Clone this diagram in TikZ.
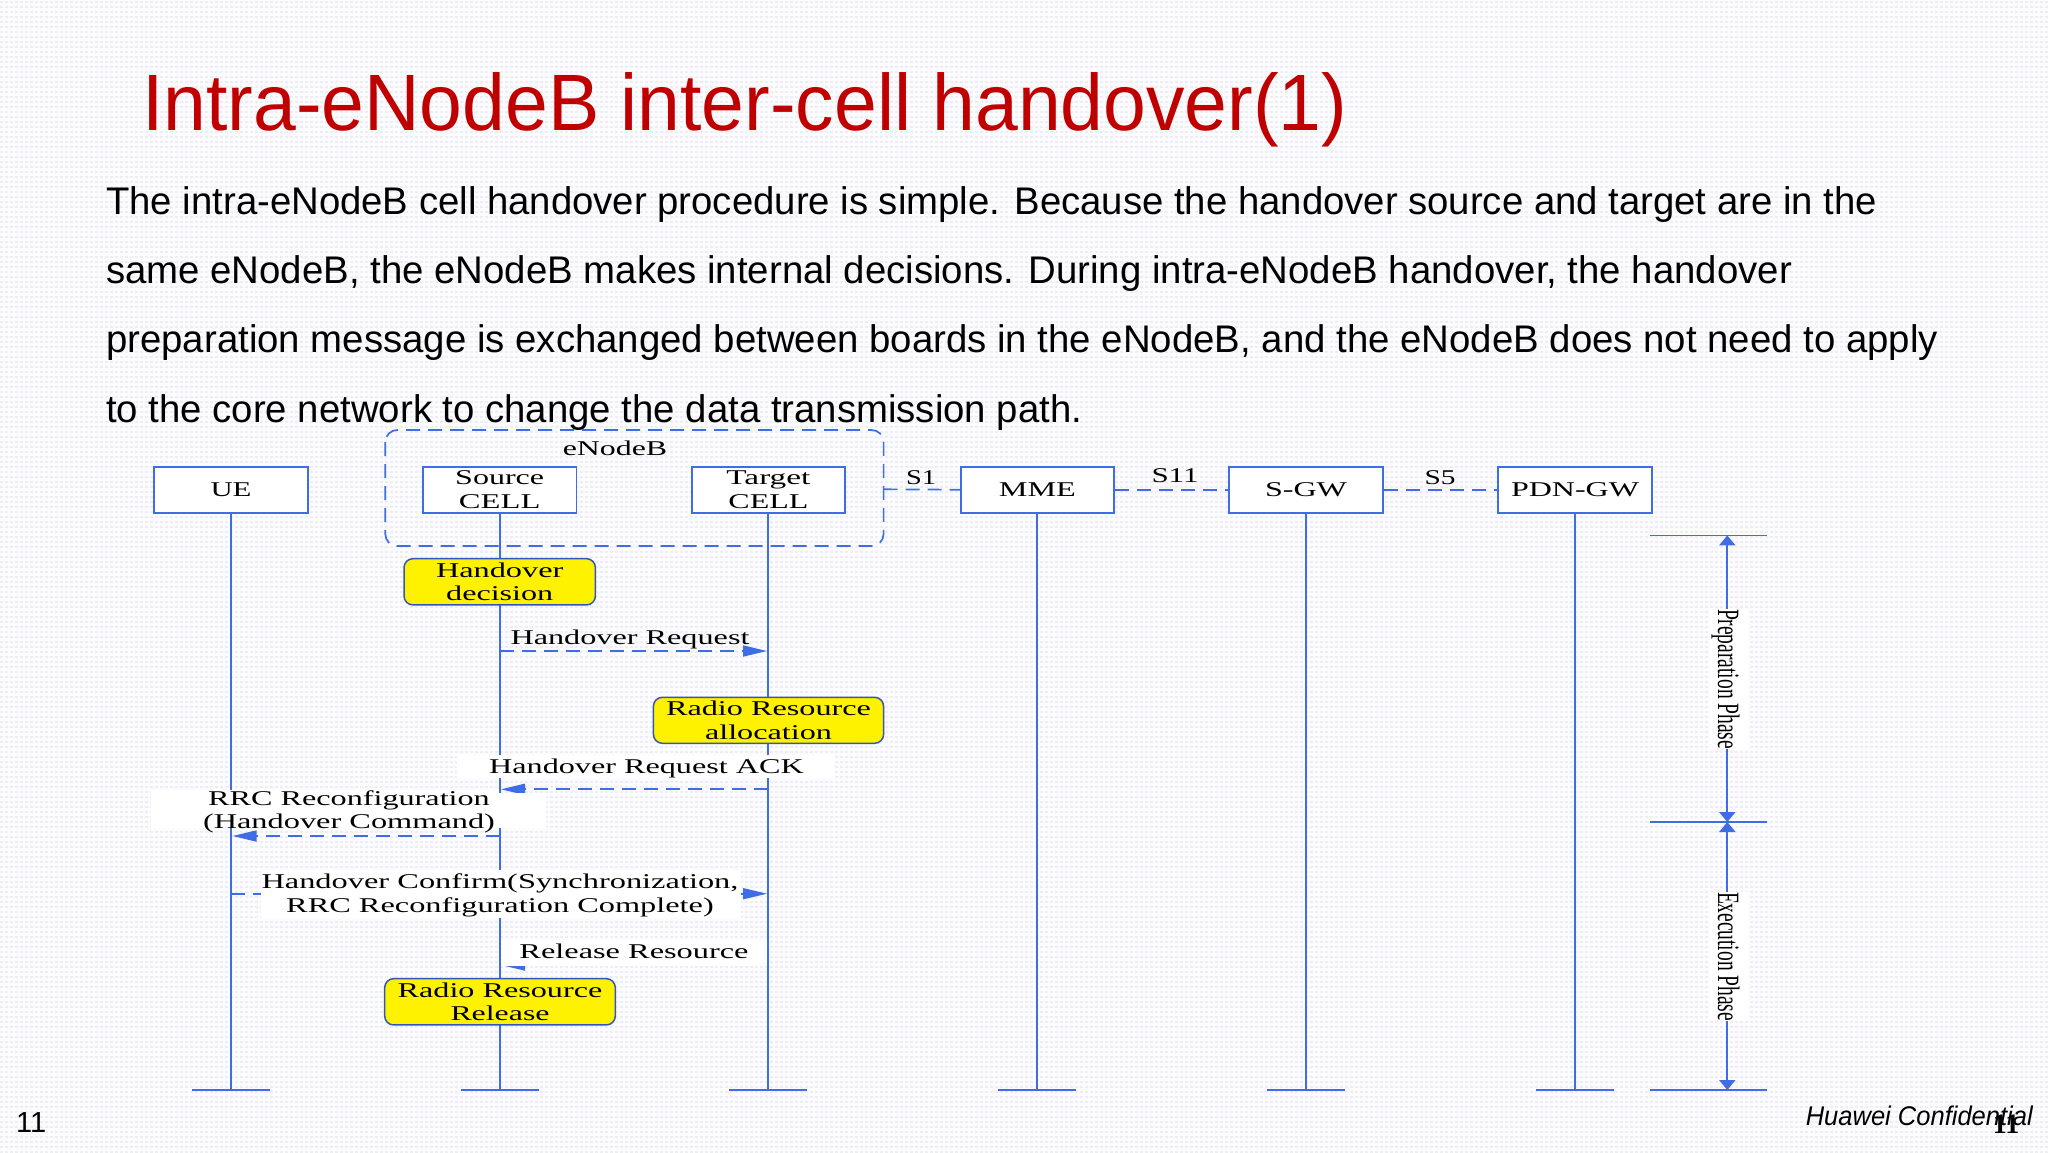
\documentclass[tikz,border=0pt]{standalone}
\usepackage{fontspec}
\setmainfont{Liberation Serif}
\newfontfamily\arialf{Liberation Sans}
\usetikzlibrary{arrows.meta}
\definecolor{lineblue}{HTML}{3F6DE6}
\definecolor{titlered}{HTML}{C00000}
\definecolor{dotc}{HTML}{EDEDF5}
\definecolor{groundc}{HTML}{FCFCFE}
\newcommand{\fit}[2]{\resizebox{#1pt}{\height}{#2}}
\tikzset{
  x=1pt,y=-1pt,
  actor/.style={draw=lineblue,line width=1.8pt,fill=white,minimum width=153.5pt,minimum height=46pt,inner sep=0pt,align=center,font=\fontsize{21}{23.3}\selectfont},
  life/.style={draw=lineblue,line width=2.1pt},
  tick/.style={draw=lineblue,line width=1.7pt},
  msg/.style={draw=lineblue,line width=1.7pt,dash pattern=on 14pt off 8pt,-{Triangle[length=24pt,width=11pt]}},
  link/.style={draw=lineblue,line width=1.7pt,dash pattern=on 14pt off 8pt},
  phase/.style={draw=lineblue,line width=2.1pt,{Triangle[length=10pt,width=16pt]}-{Triangle[length=10pt,width=16pt]}},
  proc/.style={draw=lineblue!80!black,line width=1.5pt,fill=yellow,rounded corners=9pt,inner sep=0pt,align=center,font=\fontsize{21}{23.3}\selectfont},
  lbl/.style={inner sep=0pt,align=center,font=\fontsize{21}{23.3}\selectfont},
  body/.style={inner sep=0pt,anchor=base west,font=\arialf\fontsize{38.5}{40}\selectfont},
  phasetxt/.style={inner sep=0pt,anchor=base,rotate=-90,font=\fontsize{31}{33}\selectfont},
  bgdots/.style={draw=dotc,line width=2.6pt,dash pattern=on 3pt off 2pt}
}
\begin{document}
\begin{tikzpicture}
\useasboundingbox (0,0) rectangle (2048,1152);
% background
\fill[groundc] (0,0) rectangle (2048,1152);
\foreach \yy in {2,7,...,1152} {\draw[bgdots] (0,\yy) -- (2048,\yy);}
% title and body
\node[inner sep=0pt,anchor=base west,text=titlered,font=\arialf\fontsize{80}{82}\selectfont] (title) at (142,130.5) {\fit{1205}{Intra-eNodeB inter-cell handover(1)}};
\node[body] (l1) at (106,214) {\fit{1771}{The intra-eNodeB cell handover procedure is simple. Because the handover source and target are in the}};
\node[body] (l2) at (106,283.3) {\fit{1686}{same eNodeB, the eNodeB makes internal decisions. During intra-eNodeB handover, the handover}};
\node[body] (l3) at (106,352.6) {\fit{1832}{preparation message is exchanged between boards in the eNodeB, and the eNodeB does not need to apply}};
\node[body] (l4) at (106,422) {\fit{976}{to the core network to change the data transmission path.}};
% lifeline ends
\coordinate (ueE) at (231,1090);
\coordinate (srcE) at (499.7,1090);
\coordinate (tgtE) at (768.4,1090);
\coordinate (mmeE) at (1037.4,1090);
\coordinate (sgwE) at (1306,1090);
\coordinate (pgwE) at (1575,1090);
% enodeb frame
\draw[link,rounded corners=12pt] (385.3,430) rectangle (883.6,546);
% actors
\node[actor] (ue) at (231,489.7) {\fit{41}{UE}};
\node[actor] (src) at (499.7,489.7) {\fit{89}{Source}\\\fit{81.5}{CELL}};
\node[actor] (tgt) at (768.4,489.7) {\fit{84}{Target}\\\fit{80}{CELL}};
\node[actor] (mme) at (1037.4,489.7) {\fit{77}{MME}};
\node[actor] (sgw) at (1306,489.7) {\fit{82}{S-GW}};
\node[actor] (pgw) at (1575,489.7) {\fit{128}{PDN-GW}};
\node[lbl] (enb) at (615,448) {\fit{104.5}{eNodeB}};
% lifelines
\foreach \a/\b in {ue/ueE,src/srcE,tgt/tgtE,mme/mmeE,sgw/sgwE,pgw/pgwE} {
  \draw[life] (\a.south) -- (\b);
  \draw[tick] ([xshift=-39pt]\b) -- ([xshift=39pt]\b);
}
% interface links
\coordinate (enbR) at (883.6,489.3);
\draw[link] (enbR) -- (mme.west);
\draw[link] (mme.east) -- (sgw.west);
\draw[link] (sgw.east) -- (pgw.west);
\node[lbl] (s1) at (921,477.7) {\fit{30}{S1}};
\node[lbl] (s11) at (1175,476) {\fit{47}{S11}};
\node[lbl] (s5) at (1440,478) {\fit{31}{S5}};
% message coordinates
\coordinate (m1a) at (499.7,651);   \coordinate (m1b) at (767,651);
\coordinate (m2a) at (768.4,789.3); \coordinate (m2b) at (501,789.3);
\coordinate (m3a) at (499.7,836);   \coordinate (m3b) at (232.5,836);
\coordinate (m4a) at (231,893.7);   \coordinate (m4b) at (767,893.7);
\coordinate (m5a) at (768.4,965);   \coordinate (m5b) at (501,965);
\draw[msg] (m1a) -- (m1b);
\draw[msg] (m2a) -- (m2b);
\draw[msg] (m3a) -- (m3b);
\draw[msg] (m4a) -- (m4b);
\draw[msg] (m5a) -- (m5b);
% white label backgrounds
\fill[white] (457,755) rectangle (835,778);
\fill[white] (151,790) rectangle (498.5,828);
\fill[white] (498.5,793) rectangle (546,828);
\fill[white] (260.7,870) rectangle (741,917.7);
\fill[white] (500.8,940) rectangle (767.3,965.7);
% labels
\node[lbl] (t1) at (630,639.2) {\fit{239}{Handover Request}};
\node[lbl] (t2) at (646.5,768.7) {\fit{314.6}{Handover Request ACK}};
\node[lbl] (t3) at (349,811.5) {\fit{281.6}{RRC Reconfiguration}\\\fit{292}{(Handover Command)}};
\node[lbl] (t4) at (500,895.5) {\fit{477}{Handover Confirm(Synchronization,}\\\fit{427.6}{RRC Reconfiguration Complete)}};
\node[lbl] (t5) at (634,951) {\fit{229}{Release Resource}};
% process boxes
\node[proc,minimum width=191.4pt,minimum height=46.3pt] (p1) at (499.7,581.8) {\fit{127.4}{Handover}\\\fit{107}{decision}};
\node[proc,minimum width=230.2pt,minimum height=46pt] (p2) at (768.5,720.3) {\fit{205}{Radio Resource}\\\fit{127}{allocation}};
\node[proc,minimum width=230.6pt,minimum height=46.3pt] (p3) at (500,1001.8) {\fit{204.6}{Radio Resource}\\\fit{99}{Release}};
% phases
\coordinate (pT) at (1727.3,535.4);
\coordinate (pM) at (1727.3,822);
\coordinate (pB) at (1727.3,1090);
\draw[tick] (1650,535.4) -- (1766.7,535.4);
\draw[tick] (1650,822) -- (1766.7,822);
\draw[tick] (1650,1090) -- (1766.7,1090);
\draw[phase] (pT) -- (pM);
\draw[phase] (pM) -- (pB);
\fill[white] (1710,609) rectangle (1748,749);
\fill[white] (1710,892) rectangle (1748,1021);
\node[phasetxt] (ph1) at (1718,679) {\fit{140}{Preparation Phase}};
\node[phasetxt] (ph2) at (1718,956.5) {\fit{129}{Execution Phase}};
% footer
\node[inner sep=0pt,anchor=base west,font=\arialf\fontsize{29}{31}\selectfont] (pn) at (16,1132) {11};
\node[inner sep=0pt,anchor=base east,font=\arialf\itshape\fontsize{27}{29}\selectfont] (conf) at (2033,1125) {\fit{227}{Huawei Confidential}};
\node[inner sep=0pt,anchor=base,font=\bfseries\fontsize{28}{30}\selectfont] (pn2) at (2006,1133) {11};
\end{tikzpicture}
\end{document}
